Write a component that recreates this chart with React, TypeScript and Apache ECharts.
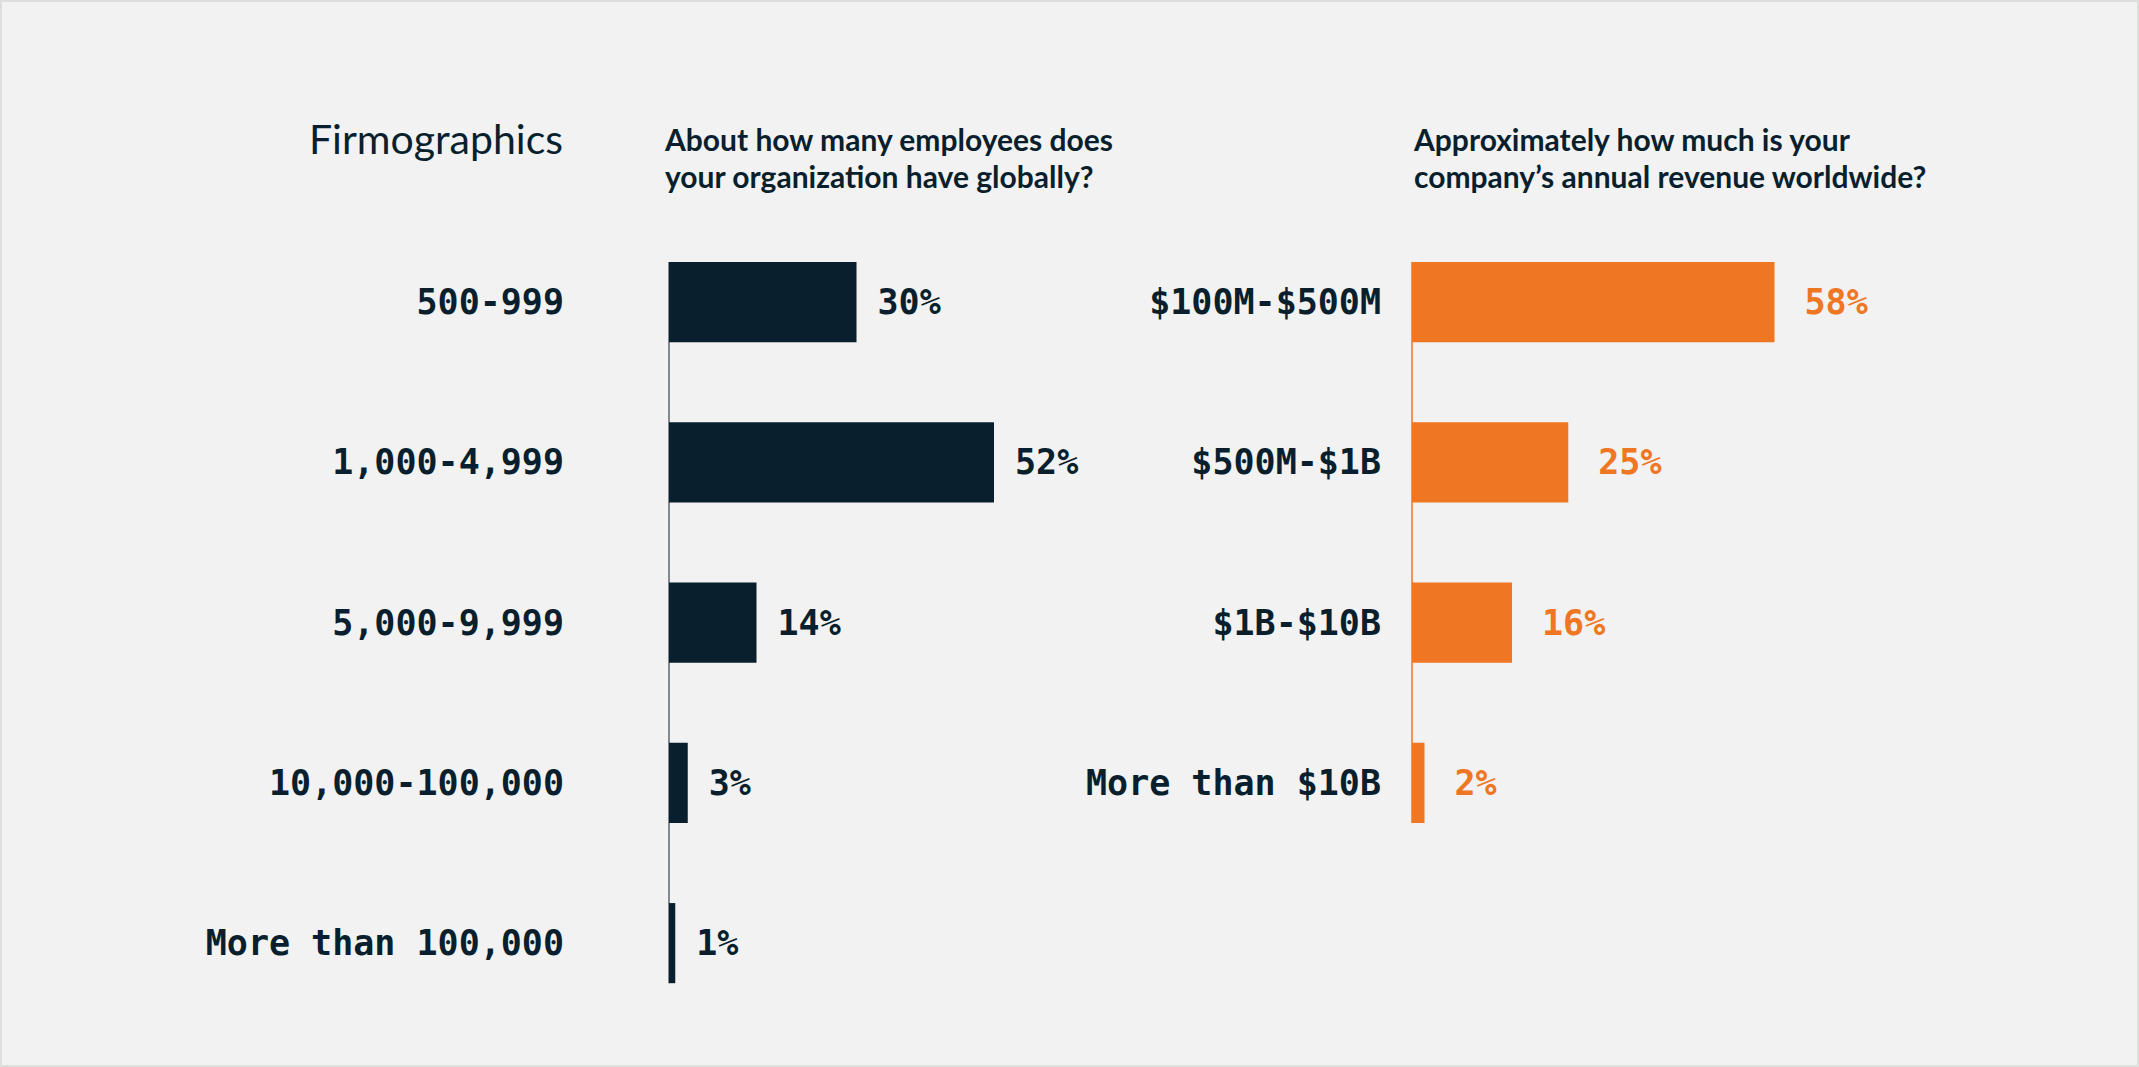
import React, { useEffect, useRef } from "react";
import * as echarts from "echarts";

const employeeCategories = ["500-999", "1,000-4,999", "5,000-9,999", "10,000-100,000", "More than 100,000"];
const employeeValues = [30, 52, 14, 3, 1];

const revenueCategories = ["$100M-$500M", "$500M-$1B", "$1B-$10B", "More than $10B"];
const revenueValues = [58, 25, 16, 2];

const sectionTitle = "Firmographics";
const employeeQuestion = "About how many employees does\nyour organization have globally?";
const revenueQuestion = "Approximately how much is your\ncompany\u2019s annual revenue worldwide?";

const NAVY = "#0a1f2d";
const ORANGE = "#ef7622";
const BG = "#f1f2f1";
const MONO = "'DejaVu Sans Mono', monospace";
const SANS = "Lato, 'Open Sans', sans-serif";

function axisLineSeries(gridIndex: number, n: number, color: string) {
  return {
    type: "custom",
    xAxisIndex: gridIndex,
    yAxisIndex: gridIndex,
    z: 1,
    silent: true,
    data: [[0, 0]],
    encode: { x: 0, y: 1 },
    renderItem: (params: any, api: any) => {
      const first = api.coord([0, 0]);
      const last = api.coord([0, n - 1]);
      const band = api.size([0, 1])[1];
      const top = Math.min(first[1], last[1]) - band / 4;
      const bottom = Math.max(first[1], last[1]) + band / 4;
      const x = first[0];
      return {
        type: "line",
        shape: { x1: x, y1: top, x2: x, y2: bottom },
        style: { stroke: color, lineWidth: 1.5 },
      };
    },
  };
}

export default function App() {
  const ref = useRef<HTMLDivElement>(null);

  useEffect(() => {
    if (!ref.current) return;
    const chart = echarts.init(ref.current, undefined, { renderer: "svg" });
    const band = 160.25;
    const top = 220;
    chart.setOption({
      animation: false,
      backgroundColor: BG,
      grid: [
        { left: 667, top, width: 625, height: band * employeeCategories.length },
        { left: 1410, top, width: 625, height: band * revenueCategories.length },
      ],
      xAxis: [0, 1].map((i) => ({
        type: "value",
        gridIndex: i,
        min: 0,
        max: 100,
        show: false,
      })),
      yAxis: [
        {
          type: "category",
          gridIndex: 0,
          inverse: true,
          data: employeeCategories,
          axisLine: { show: false },
          axisTick: { show: false },
          axisLabel: {
            margin: 105,
            fontFamily: MONO,
            fontWeight: "bold",
            fontSize: 35,
            color: NAVY,
          },
        },
        {
          type: "category",
          gridIndex: 1,
          inverse: true,
          data: revenueCategories,
          axisLine: { show: false },
          axisTick: { show: false },
          axisLabel: {
            margin: 31,
            fontFamily: MONO,
            fontWeight: "bold",
            fontSize: 35,
            color: NAVY,
          },
        },
      ],
      graphic: [
        {
          type: "text",
          x: 561,
          y: 136,
          style: {
            text: sectionTitle,
            font: `normal 41px ${SANS}`,
            fill: NAVY,
            textAlign: "right",
            textVerticalAlign: "middle",
          },
        },
        {
          type: "text",
          x: 663,
          y: 118,
          style: {
            text: employeeQuestion,
            font: `bold 30px ${SANS}`,
            lineHeight: 37,
            fill: NAVY,
            textAlign: "left",
            textVerticalAlign: "top",
          },
        },
        {
          type: "text",
          x: 1412,
          y: 118,
          style: {
            text: revenueQuestion,
            font: `bold 30px ${SANS}`,
            lineHeight: 37,
            fill: NAVY,
            textAlign: "left",
            textVerticalAlign: "top",
          },
        },
      ],
      series: [
        axisLineSeries(0, employeeCategories.length, "#5b6670"),
        axisLineSeries(1, revenueCategories.length, ORANGE),
        {
          type: "bar",
          xAxisIndex: 0,
          yAxisIndex: 0,
          z: 2,
          data: employeeValues,
          barWidth: "50%",
          itemStyle: { color: NAVY },
          label: {
            show: true,
            position: "right",
            distance: 21,
            formatter: "{c}%",
            fontFamily: MONO,
            fontWeight: "bold",
            fontSize: 35,
            color: NAVY,
          },
        },
        {
          type: "bar",
          xAxisIndex: 1,
          yAxisIndex: 1,
          z: 2,
          data: revenueValues,
          barWidth: "50%",
          itemStyle: { color: ORANGE },
          label: {
            show: true,
            position: "right",
            distance: 30,
            formatter: "{c}%",
            fontFamily: MONO,
            fontWeight: "bold",
            fontSize: 35,
            color: ORANGE,
          },
        },
      ],
    });
    return () => chart.dispose();
  }, []);

  return (
    <div
      style={{
        position: "fixed",
        left: 0,
        top: 0,
        width: 2139,
        height: 1067,
        boxSizing: "border-box",
        border: "2px solid #dddfdd",
        background: BG,
      }}
    >
      <div ref={ref} style={{ width: 2135, height: 1063 }} />
    </div>
  );
}
